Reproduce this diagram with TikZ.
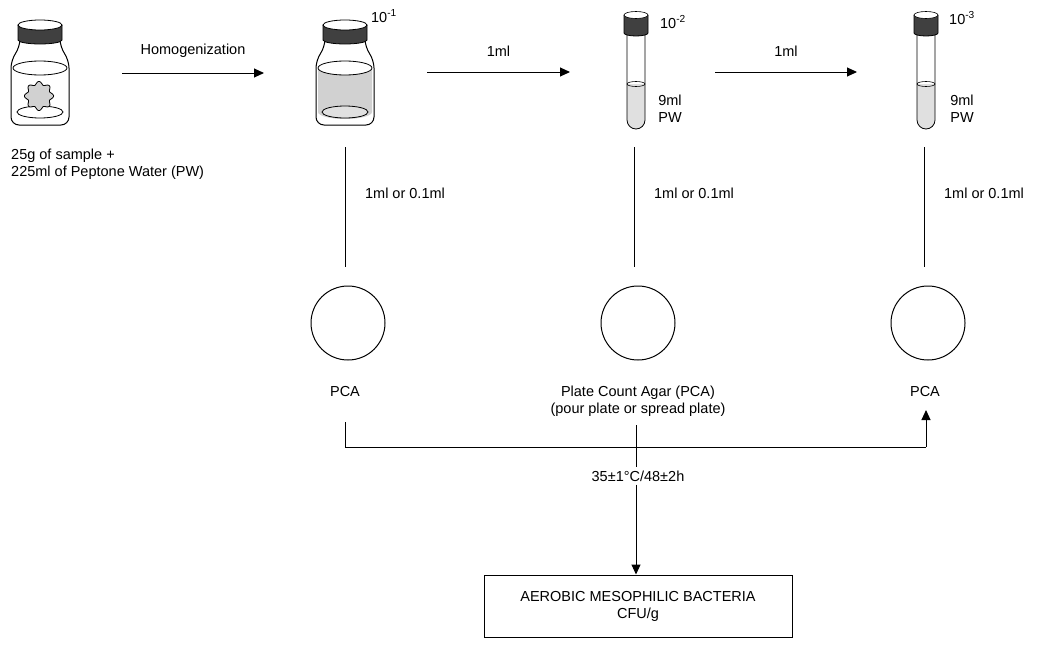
\documentclass[tikz,border=0pt]{standalone}
\usepackage{fontspec}
\setmainfont{Liberation Sans}
\usetikzlibrary{arrows.meta}
\begin{document}
\begin{tikzpicture}[x=1pt,y=-1pt,
  lbl/.style={font=\fontsize{14.5}{17}\selectfont,inner sep=1pt},
  ln/.style={line width=1pt},
  arr/.style={ln,-{Triangle[length=10pt,width=9pt]}},
  plate/.style={circle,draw,line width=1pt,minimum size=74pt,inner sep=0pt},
  capc/.style={fill=black!75,draw=black,line width=0.8pt}]
\useasboundingbox (0,0) rectangle (1043,645);
\newcommand{\mybottle}[2]{%
 \begin{scope}[shift={(#1,0)}]
  \draw[line width=1pt,fill=white,rounded corners=8pt] (-20,42) -- (-20,47) -- (-29,60) -- (-29,125) -- (29,125) -- (29,60) -- (20,47) -- (20,42);
  \ifx#21
  \fill[black!18] (-27,68) -- (-27,112) arc[start angle=180,end angle=0,x radius=27,y radius=7] -- (27,68) arc[start angle=0,end angle=180,x radius=27,y radius=7];
  \draw[line width=0.8pt] (0,68) ellipse[x radius=27,y radius=7];
  \draw[line width=0.8pt,fill=black!12] (0,112) ellipse[x radius=23,y radius=6];
  \else
  \draw[line width=0.8pt] (0,68) ellipse[x radius=27,y radius=7];
  \draw[line width=0.8pt] (0,112) ellipse[x radius=23,y radius=6];
  \draw[line width=0.8pt,fill=black!18] plot[domain=0:360,samples=90,smooth] ({-1+(13+1.6*cos(8*\x))*cos(\x)},{96+(13+1.6*cos(8*\x))*sin(\x)}) -- cycle;
  \fi
  \draw[capc] (-22,25) -- (-22,40) arc[start angle=180,end angle=0,x radius=22,y radius=4] -- (22,25);
  \draw[line width=0.8pt,fill=white] (0,25) ellipse[x radius=22,y radius=5];
 \end{scope}}
\newcommand{\mytube}[1]{%
 \begin{scope}[shift={(#1,0)}]
  \fill[black!12] (-9,84) -- (-9,120) arc[start angle=180,end angle=0,radius=9] -- (9,84);
  \draw[line width=0.8pt] (-9,28) -- (-9,120) arc[start angle=180,end angle=0,radius=9] -- (9,28);
  \draw[line width=0.6pt] (0,84) ellipse[x radius=9,y radius=2.5];
  \draw[capc] (-12,15) -- (-12,33) arc[start angle=180,end angle=0,x radius=12,y radius=3] -- (12,15);
  \draw[line width=0.6pt,fill=white] (0,15) ellipse[x radius=12,y radius=3.5];
 \end{scope}}
\mybottle{40}{0}
\mybottle{345}{1}
\mytube{636}
\mytube{926}
\node[lbl] (e1) at (384,16) {10\textsuperscript{-1}};
\node[lbl] (e2) at (673,22) {10\textsuperscript{-2}};
\node[lbl] (e3) at (962,18) {10\textsuperscript{-3}};
\node[lbl,align=left] (pw2) at (670,109) {9ml\\PW};
\node[lbl,align=left] (pw3) at (962,109) {9ml\\PW};
\node[lbl,align=left,anchor=west] (s) at (10,164) {25g of sample +\\225ml of Peptone Water (PW)};
\coordinate (a1) at (122,73); \coordinate (a2) at (264,73);
\coordinate (b1) at (427,72); \coordinate (b2) at (570,72);
\coordinate (c1) at (715,72); \coordinate (c2) at (857,72);
\draw[arr] (a1) -- node[lbl,above=14pt] {Homogenization} (a2);
\draw[arr] (b1) -- node[lbl,above=14pt] {1ml} (b2);
\draw[arr] (c1) -- node[lbl,above=14pt] {1ml} (c2);
\node[plate] (p1) at (348,323) {};
\node[plate] (p2) at (638,323) {};
\node[plate] (p3) at (928,323) {};
\foreach \x/\n in {345/1,634/2,924/3}{
  \coordinate (t\n) at (\x,147); \coordinate (u\n) at (\x,267);
  \draw[ln] (t\n) -- (u\n);
  \node[lbl] at (\x+60,193) {1ml or 0.1ml};
}
\node[lbl] (l1) at (345,392) {PCA};
\node[lbl,align=center] (l2) at (638,401) {Plate Count Agar (PCA)\\(pour plate or spread plate)};
\node[lbl] (l3) at (925,392) {PCA};
\coordinate (k1) at (345,422); \coordinate (k2) at (345,447); \coordinate (k3) at (926,447); \coordinate (k4) at (926,410);
\draw[ln] (k1) -- (k2) -- (k3);
\draw[arr] (k3) -- (k4);
\node[lbl,fill=white,inner sep=3pt] (tt) at (638,476) {35±1°C/48±2h};
\node[draw,line width=1pt,minimum width=308pt,minimum height=62pt,align=center,lbl] (box) at (638,606) {AEROBIC MESOPHILIC BACTERIA\\CFU/g};
\coordinate (m1) at (636,425);
\draw[ln] (m1) -- (636,447);
\draw[ln] (636,447) -- (636,0 |- tt.north);
\draw[arr] (636,0 |- tt.south) -- (636,0 |- box.north);
\end{tikzpicture}
\end{document}
